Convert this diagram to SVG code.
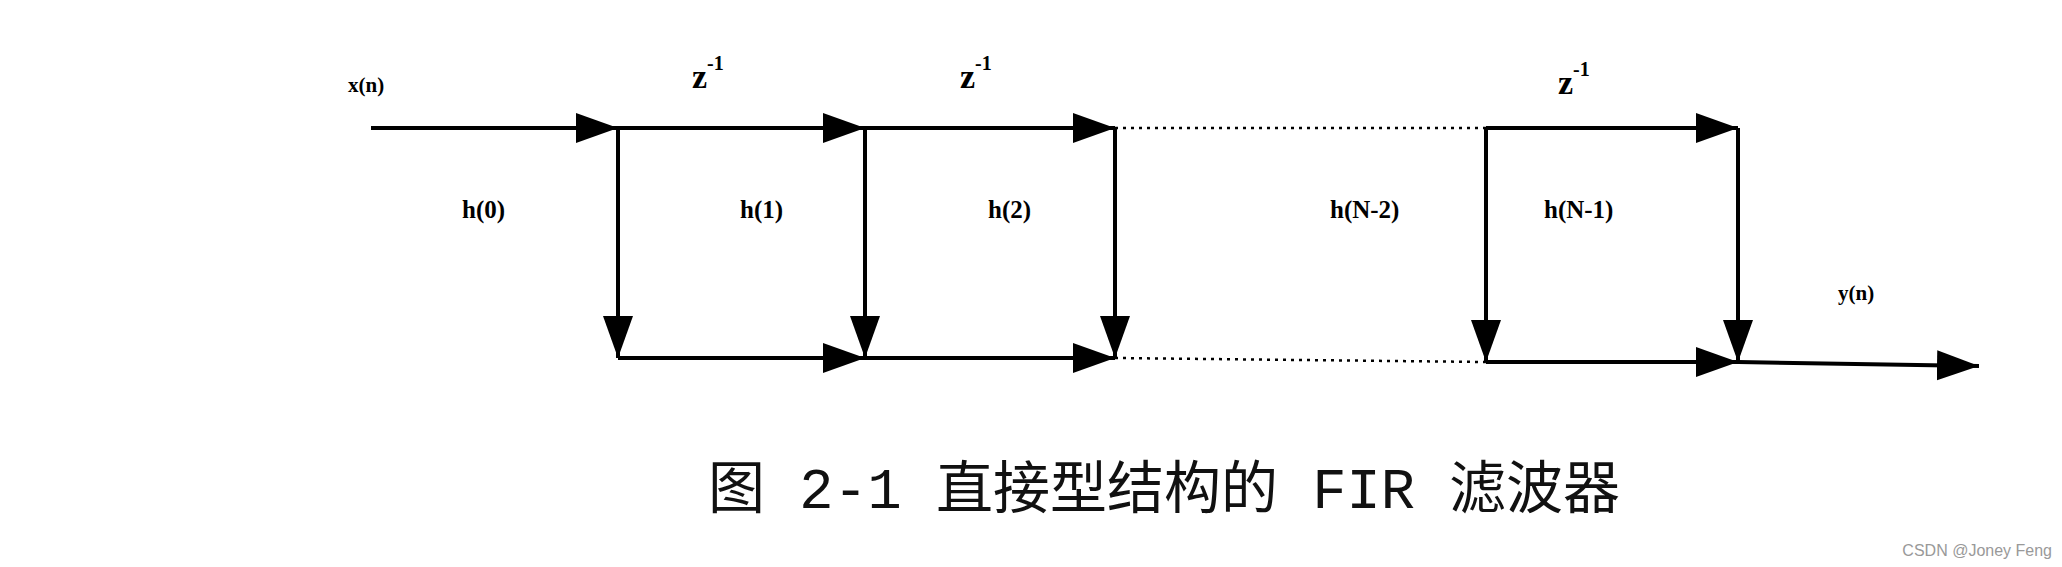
<svg xmlns="http://www.w3.org/2000/svg" width="2062" height="567" viewBox="0 0 2062 567">
<style>
.w{stroke:#000;stroke-width:4;fill:none}
.d{stroke:#000;stroke-width:2.5;stroke-dasharray:3 5;fill:none}
.l{font-family:"Liberation Serif",serif;font-weight:bold;font-size:25px;fill:#000}
.z{font-family:"Liberation Serif",serif;font-weight:bold;font-size:34px;fill:#000}
.s{font-family:"Liberation Serif",serif;font-weight:bold;font-size:21px;fill:#000}
.c{font-family:"Liberation Mono","Noto Sans CJK SC",monospace;font-size:57px;fill:#111}
</style>
<defs>
<marker id="a" markerUnits="userSpaceOnUse" markerWidth="44" markerHeight="34" refX="42" refY="17" orient="auto"><polygon points="0,2 42,17 0,32" fill="#000"/></marker>
</defs>
<rect width="2062" height="567" fill="#fff"/>
<g id="connectors">
<line class="w" x1="371" y1="128" x2="618" y2="128" marker-end="url(#a)"/>
<line class="w" x1="618" y1="128" x2="865" y2="128" marker-end="url(#a)"/>
<line class="w" x1="865" y1="128" x2="1115" y2="128" marker-end="url(#a)"/>
<line class="d" x1="1115" y1="128" x2="1486" y2="128"/>
<line class="w" x1="1486" y1="128" x2="1738" y2="128" marker-end="url(#a)"/>
<line class="w" x1="618" y1="128" x2="618" y2="358" marker-end="url(#a)"/>
<line class="w" x1="865" y1="128" x2="865" y2="358" marker-end="url(#a)"/>
<line class="w" x1="1115" y1="128" x2="1115" y2="358" marker-end="url(#a)"/>
<line class="w" x1="1486" y1="128" x2="1486" y2="362" marker-end="url(#a)"/>
<line class="w" x1="1738" y1="128" x2="1738" y2="362" marker-end="url(#a)"/>
<line class="w" x1="618" y1="358" x2="865" y2="358" marker-end="url(#a)"/>
<line class="w" x1="865" y1="358" x2="1115" y2="358" marker-end="url(#a)"/>
<line class="d" x1="1115" y1="358" x2="1486" y2="362"/>
<line class="w" x1="1486" y1="362" x2="1738" y2="362" marker-end="url(#a)"/>
<line class="w" x1="1738" y1="362" x2="1979" y2="366" marker-end="url(#a)"/>
</g>
<g id="labels">
<text class="s" x="348" y="92">x(n)</text>
<text class="z" x="692" y="88">z<tspan font-size="20" dy="-18">-1</tspan></text>
<text class="z" x="960" y="88">z<tspan font-size="20" dy="-18">-1</tspan></text>
<text class="z" x="1558" y="94">z<tspan font-size="20" dy="-18">-1</tspan></text>
<text class="l" x="462" y="218">h(0)</text>
<text class="l" x="740" y="218">h(1)</text>
<text class="l" x="988" y="218">h(2)</text>
<text class="l" x="1330" y="218">h(N-2)</text>
<text class="l" x="1544" y="218">h(N-1)</text>
<text class="s" x="1838" y="300">y(n)</text>
</g>
<g id="caption">
<text class="c" x="708" y="508">图 2-1  直接型结构的 FIR 滤波器</text>
<text x="2052" y="556" text-anchor="end" font-family="Liberation Sans,sans-serif" font-size="16" fill="#999">CSDN @Joney Feng</text>
</g>
</svg>
